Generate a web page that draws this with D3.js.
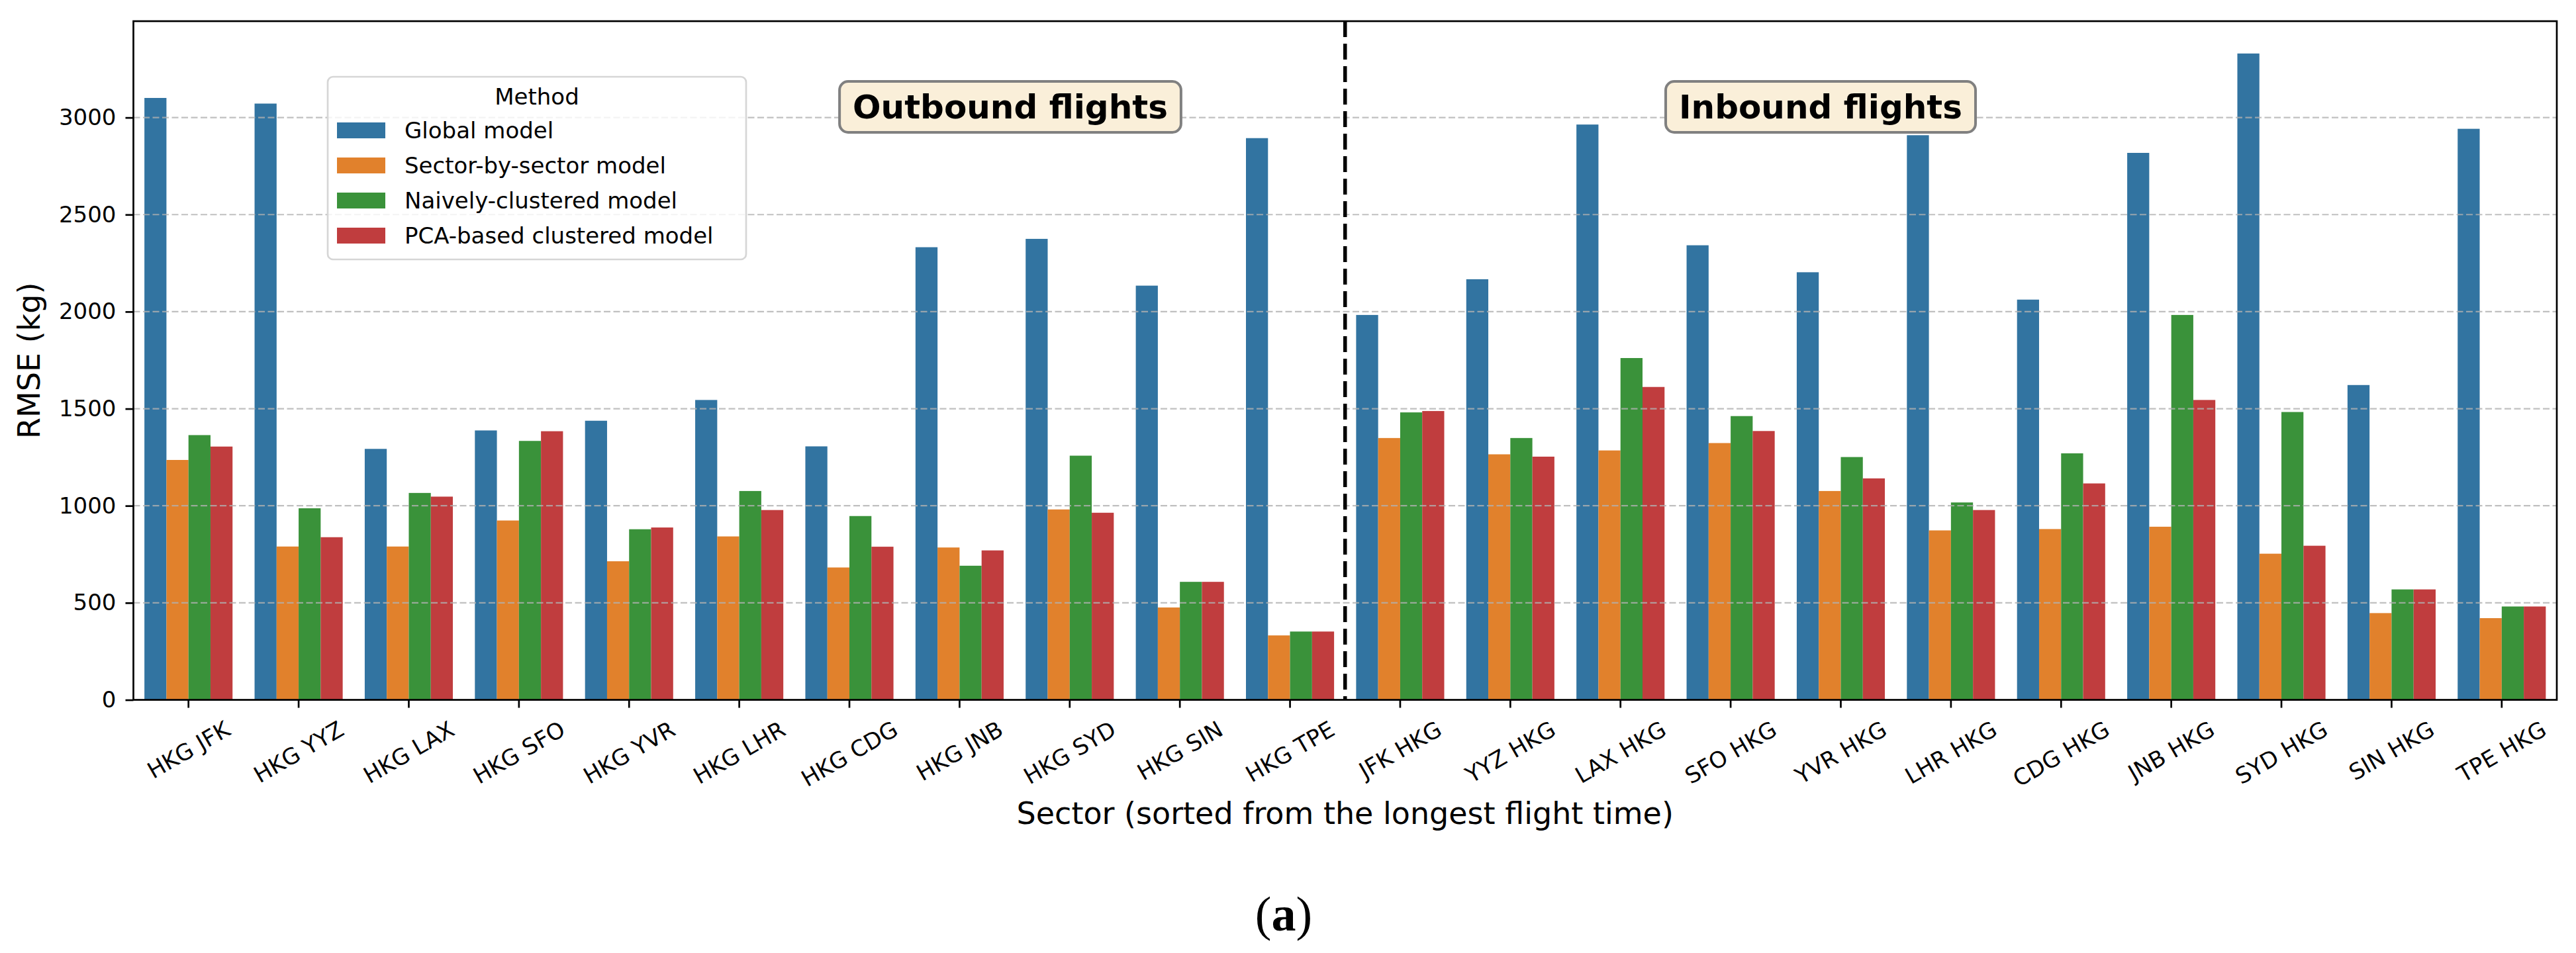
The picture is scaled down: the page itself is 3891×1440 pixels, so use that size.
<!DOCTYPE html>
<html>
<head>
<meta charset="utf-8">
<script src="https://cdn.jsdelivr.net/npm/d3@7"></script>
<style>
  body { margin: 0; background: #fff; }
  text { font-family: "DejaVu Sans", sans-serif; }
</style>
</head>
<body>
<div id="chart"></div>
<script>
// sectors, outbound first then inbound
var sectors = ["HKG JFK", "HKG YYZ", "HKG LAX", "HKG SFO", "HKG YVR", "HKG LHR", "HKG CDG", "HKG JNB", "HKG SYD", "HKG SIN", "HKG TPE",
               "JFK HKG", "YYZ HKG", "LAX HKG", "SFO HKG", "YVR HKG", "LHR HKG", "CDG HKG", "JNB HKG", "SYD HKG", "SIN HKG", "TPE HKG"]
var methods = ["Global model", "Sector-by-sector model", "Naively-clustered model", "PCA-based clustered model"]

var globalModel  = [3101, 3072, 1293, 1388, 1438, 1545, 1306, 2332, 2375, 2134, 2894,
                    1983, 2167, 2964, 2342, 2203, 2909, 2062, 2818, 3330, 1622, 2942]
var sectorModel  = [1236, 790, 790, 924, 714, 842, 682, 785, 981, 476, 332,
                    1349, 1265, 1285, 1323, 1076, 873, 880, 892, 753, 447, 421]
var naiveModel   = [1364, 987, 1066, 1334, 879, 1076, 947, 691, 1258, 608, 352,
                    1481, 1349, 1761, 1462, 1251, 1017, 1270, 1983, 1483, 569, 481]
var pcaModel     = [1305, 838, 1047, 1384, 888, 978, 789, 770, 964, 608, 352,
                    1488, 1253, 1612, 1385, 1141, 978, 1115, 1545, 794, 569, 481]

var yTicks = [0, 500, 1000, 1500, 2000, 2500, 3000]
var colors = ["#3274a1", "#e1812c", "#3a923a", "#c03d3e"]

var width = 3891, height = 1440
var margin = {left: 201.5, right: 3862, top: 32, bottom: 1057.5}

var svg = d3.select("#chart").append("svg")
	.attr("width", width)
	.attr("height", height)

// build rows for the grouped bars
var series = [globalModel, sectorModel, naiveModel, pcaModel]
var rows = []
sectors.forEach(function(s, i){
	methods.forEach(function(m, j){
		rows.push({sector: s, method: m, value: series[j][i], k: j})
	})
})

var x = d3.scaleBand()
	.domain(sectors)
	.range([margin.left, margin.right])
	.paddingInner(0.2)
	.paddingOuter(0.1)

var xm = d3.scaleBand()
	.domain(methods)
	.range([0, x.bandwidth()])

var y = d3.scaleLinear()
	.domain([0, d3.max(globalModel) * 1.05])
	.range([margin.bottom, margin.top])

var color = d3.scaleOrdinal().domain(methods).range(colors)

// bars
svg.append("g").selectAll("rect")
	.data(rows)
	.enter()
	.append("rect")
	.attr("x", function(d){ return x(d.sector) + xm(d.method) })
	.attr("y", function(d){ return y(d.value) })
	.attr("width", xm.bandwidth())
	.attr("height", function(d){ return y(0) - y(d.value) })
	.attr("fill", function(d){ return color(d.method) })

// y grid, dashed, drawn over bars
svg.append("g").selectAll("line")
	.data(yTicks.slice(1))
	.enter()
	.append("line")
	.attr("x1", margin.left).attr("x2", margin.right)
	.attr("y1", function(d){ return y(d) }).attr("y2", function(d){ return y(d) })
	.attr("stroke", "#b0b0b0")
	.attr("stroke-opacity", 0.8)
	.attr("stroke-width", 2.2)
	.attr("stroke-dasharray", "10,4.5")

// separator between outbound / inbound
var sepX = (x(sectors[10]) + x.bandwidth() + x(sectors[11])) / 2
svg.append("line")
	.attr("x1", sepX).attr("x2", sepX)
	.attr("y1", margin.top).attr("y2", margin.bottom)
	.attr("stroke", "#000")
	.attr("stroke-width", 5.5)
	.attr("stroke-dasharray", "24,10")

// axes
var yAxis = svg.append("g")
	.attr("transform", "translate(" + margin.left + ",0)")
	.call(d3.axisLeft(y).tickValues(yTicks).tickFormat(d3.format("d")).tickSize(12).tickPadding(14).tickSizeOuter(0))
yAxis.select(".domain").remove()
yAxis.selectAll("line").attr("stroke-width", 2.7)
yAxis.selectAll("text").attr("font-size", 34).attr("font-family", "DejaVu Sans").attr("fill", "#000")

var xAxis = svg.append("g")
	.attr("transform", "translate(0," + margin.bottom + ")")
	.call(d3.axisBottom(x).tickSize(12).tickSizeOuter(0))
xAxis.select(".domain").remove()
xAxis.selectAll("line").attr("stroke-width", 2.7)

var fs = 34
xAxis.selectAll("text")
	.attr("font-size", fs)
	.attr("font-family", "DejaVu Sans")
	.attr("fill", "#000")
	.attr("y", null).attr("dy", null)
	.attr("text-anchor", "middle")
	.attr("dominant-baseline", "central")
	.each(function(){
		// rotated 30 deg, bbox centred under the tick
		var w = this.getComputedTextLength()
		var bh = w * 0.5 + fs * 1.17 * 0.866
		var cy = 24 + bh / 2
		d3.select(this).attr("transform", "translate(0," + cy + ") rotate(-30)")
	})

// frame
svg.append("rect")
	.attr("x", margin.left).attr("y", margin.top)
	.attr("width", margin.right - margin.left)
	.attr("height", margin.bottom - margin.top)
	.attr("fill", "none")
	.attr("stroke", "#000")
	.attr("stroke-width", 2.7)

// axis titles
svg.append("text")
	.attr("transform", "translate(44," + (margin.top + margin.bottom) / 2 + ") rotate(-90)")
	.attr("text-anchor", "middle")
	.attr("dominant-baseline", "central")
	.attr("font-size", 46)
	.text("RMSE (kg)")

svg.append("text")
	.attr("x", (margin.left + margin.right) / 2)
	.attr("y", 1245)
	.attr("text-anchor", "middle")
	.attr("font-size", 46)
	.text("Sector (sorted from the longest flight time)")

// caption
var cap = svg.append("text")
	.attr("x", 1939)
	.attr("y", 1406)
	.attr("text-anchor", "middle")
	.attr("font-size", 74)
	.style("font-family", "'Liberation Serif', serif")
cap.append("tspan").text("(")
cap.append("tspan").attr("font-weight", "bold").text("a")
cap.append("tspan").text(")")

// annotation boxes
function tag(cx, label){
	var g = svg.append("g")
	var t = g.append("text")
		.attr("x", cx).attr("y", 162)
		.attr("text-anchor", "middle")
		.attr("dominant-baseline", "central")
		.attr("font-size", 50)
		.attr("font-weight", "bold")
		.text(label)
	var w = t.node().getComputedTextLength()
	g.insert("rect", "text")
		.attr("x", cx - w / 2 - 20).attr("y", 123)
		.attr("width", w + 40).attr("height", 77)
		.attr("rx", 13)
		.attr("fill", "#faefd9")
		.attr("stroke", "#808080")
		.attr("stroke-width", 4)
}
tag(1526, "Outbound flights")
tag(2750, "Inbound flights")

// legend
var lg = svg.append("g")
lg.append("rect")
	.attr("x", 495).attr("y", 116)
	.attr("width", 632).attr("height", 276)
	.attr("rx", 8)
	.attr("fill", "#fff").attr("fill-opacity", 0.8)
	.attr("stroke", "#d6d6d6").attr("stroke-width", 2.7)
lg.append("text")
	.attr("x", 811).attr("y", 146)
	.attr("text-anchor", "middle")
	.attr("dominant-baseline", "central")
	.attr("font-size", 34)
	.text("Method")
var item = lg.selectAll("g.item")
	.data(methods)
	.enter()
	.append("g")
	.attr("class", "item")
	.attr("transform", function(d, i){ return "translate(0," + (197 + i * 53) + ")" })
item.append("rect")
	.attr("x", 509).attr("y", -12)
	.attr("width", 73).attr("height", 24)
	.attr("fill", function(d){ return color(d) })
item.append("text")
	.attr("x", 611)
	.attr("dominant-baseline", "central")
	.attr("font-size", 34)
	.text(function(d){ return d })
</script>
</body>
</html>
